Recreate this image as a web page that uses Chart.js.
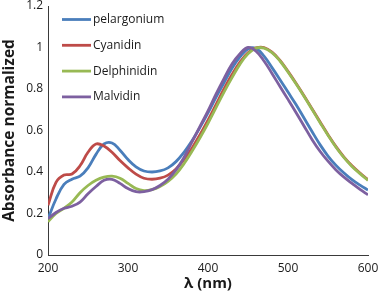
<!DOCTYPE html>
<html><head><meta charset="utf-8">
<script src="https://cdn.jsdelivr.net/npm/chart.js@4/dist/chart.umd.min.js"></script>
<style>html,body{margin:0;padding:0;background:#fff}canvas{display:block}</style>
</head><body>
<canvas id="c" width="379" height="296"></canvas>
<script>
const wavelengths = [200,210,220,230,240,250,260,270,280,290,300,310,320,330,340,350,360,370,380,390,400,410,420,430,440,450,460,470,480,490,500,510,520,530,540,550,560,570,580,590,600];
const pelargonium = [0.175,0.27,0.34,0.365,0.38,0.42,0.485,0.535,0.54,0.505,0.46,0.425,0.405,0.40,0.405,0.42,0.45,0.495,0.55,0.615,0.685,0.76,0.83,0.9,0.955,0.993,0.995,0.958,0.903,0.845,0.785,0.725,0.66,0.595,0.532,0.477,0.432,0.395,0.363,0.337,0.313];
const cyanidin = [0.24,0.35,0.385,0.39,0.43,0.495,0.535,0.525,0.495,0.455,0.42,0.39,0.37,0.365,0.37,0.385,0.415,0.46,0.515,0.58,0.65,0.725,0.8,0.87,0.93,0.975,0.998,1.0,0.978,0.938,0.885,0.828,0.768,0.705,0.642,0.58,0.522,0.472,0.43,0.395,0.363];
const delphinidin = [0.16,0.2,0.225,0.255,0.3,0.335,0.36,0.375,0.38,0.37,0.345,0.32,0.31,0.315,0.33,0.355,0.39,0.44,0.5,0.565,0.635,0.71,0.785,0.855,0.92,0.97,0.997,0.997,0.975,0.935,0.882,0.825,0.765,0.702,0.639,0.577,0.519,0.469,0.427,0.392,0.36];
const malvidin = [0.175,0.205,0.225,0.235,0.255,0.295,0.33,0.36,0.365,0.345,0.32,0.305,0.305,0.315,0.335,0.365,0.41,0.47,0.545,0.62,0.695,0.775,0.85,0.92,0.97,1.0,0.982,0.935,0.875,0.812,0.75,0.687,0.622,0.557,0.5,0.452,0.41,0.375,0.345,0.316,0.29];
const seriesNames = ['pelargonium','Cyanidin','Delphinidin','Malvidin'];
const seriesColors = ['#4A7EBB','#BE4B48','#98B954','#7D60A0'];
const yTicks = [0,0.2,0.4,0.6,0.8,1,1.2];
const xTicks = [200,300,400,500,600];
const xTitle = 'λ (nm)';
const yTitle = 'Absorbance normalized';

const allSeries = [pelargonium, cyanidin, delphinidin, malvidin];
const datasets = allSeries.map((vals, i) => ({
  label: seriesNames[i],
  data: wavelengths.map((w, j) => ({x: w, y: vals[j]})),
  borderColor: seriesColors[i],
  backgroundColor: seriesColors[i],
  borderWidth: 2.8,
  pointRadius: 0,
  tension: 0.4,
  fill: false,
  order: allSeries.length - i
}));

const legendPlugin = {
  id: 'insideLegend',
  afterDatasetsDraw(chart) {
    const ctx = chart.ctx;
    ctx.save();
    ctx.font = '12px "Open Sans"';
    ctx.textBaseline = 'middle';
    ctx.textAlign = 'left';
    chart.data.datasets.forEach((ds, i) => {
      const y = 19.5 + i * 25.8;
      ctx.strokeStyle = ds.borderColor;
      ctx.lineWidth = 2.8;
      ctx.beginPath();
      ctx.moveTo(62, y);
      ctx.lineTo(91, y);
      ctx.stroke();
      ctx.fillStyle = '#1a1a1a';
      ctx.fillText(ds.label, 93, y);
    });
    ctx.restore();
  }
};

const tickFont = {family: '"Open Sans"', size: 12};
new Chart(document.getElementById('c'), {
  type: 'line',
  data: {datasets},
  plugins: [legendPlugin],
  options: {
    responsive: false,
    animation: false,
    layout: {padding: {left: 0, right: 11, top: 6, bottom: 0}},
    plugins: {legend: {display: false}, tooltip: {enabled: false}},
    scales: {
      x: {
        type: 'linear', min: 200, max: 600,
        afterBuildTicks: s => { s.ticks = xTicks.map(v => ({value: v})); },
        afterFit: s => { s.height = 41; s.paddingLeft = 0; s.paddingRight = 0; },
        grid: {display: true, drawOnChartArea: false, drawTicks: false},
        border: {display: true, color: '#3a3a3a', width: 1},
        ticks: {font: tickFont, color: '#1a1a1a', padding: 6, maxRotation: 0, callback: v => String(v)},
        title: {display: true, text: xTitle, font: {family: '"Open Sans"', size: 15, weight: 'bold'}, color: '#1a1a1a', padding: {top: 0, bottom: 3}}
      },
      y: {
        type: 'linear', min: 0, max: 1.2,
        afterBuildTicks: s => { s.ticks = yTicks.map(v => ({value: v})); },
        afterFit: s => { s.width = 48; s.paddingTop = 0; s.paddingBottom = 0; },
        grid: {display: true, drawOnChartArea: false, drawTicks: false},
        border: {display: true, color: '#3a3a3a', width: 1},
        ticks: {font: tickFont, color: '#1a1a1a', padding: 5, callback: v => String(v)},
        title: {display: true, text: yTitle, font: {family: '"Open Sans"', size: 15.5, weight: 'bold'}, color: '#1a1a1a', padding: 0}
      }
    }
  }
});
</script>
</body></html>
